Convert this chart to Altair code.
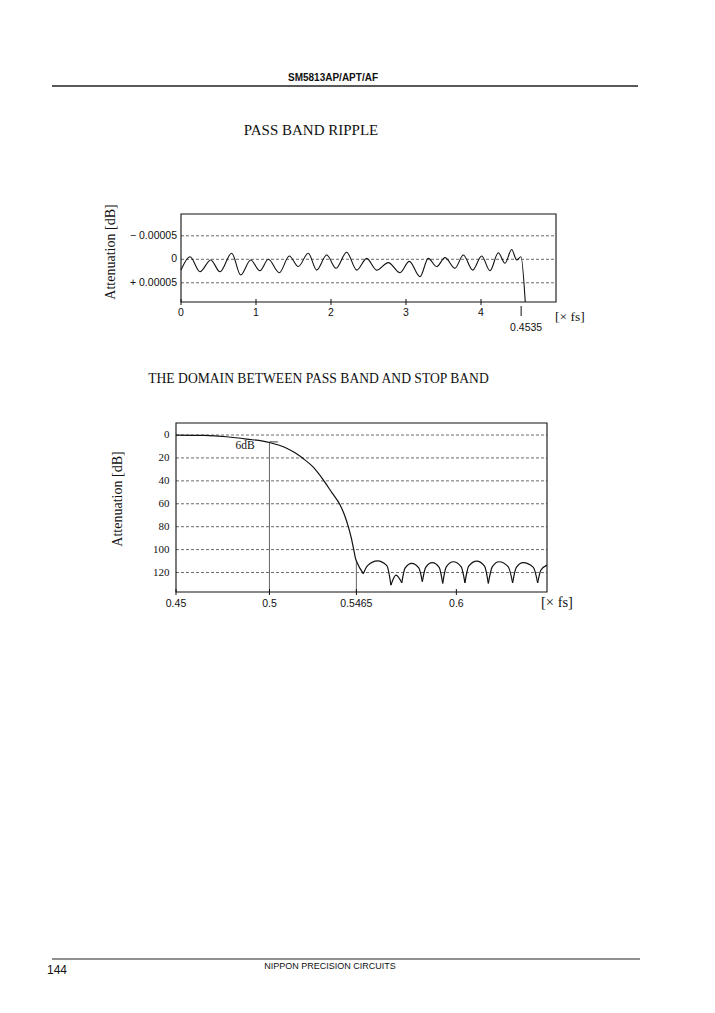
import altair as alt
import pandas as pd

SANS = "Liberation Sans"
SERIF = "Liberation Serif"
INK = "#111111"

# ---------------- data: pass band ripple ----------------
# x in units of 0.1 x fs (axis shows 0..4), attenuation in micro-dB
ripple_x = [0, 0.12, 0.253, 0.396, 0.52, 0.676, 0.796, 0.929, 1.053, 1.164,
            1.311, 1.444, 1.564, 1.697, 1.809, 1.943, 2.067, 2.209, 2.343, 2.476,
            2.609, 2.764, 2.92, 3.044, 3.187, 3.297, 3.409, 3.52, 3.653, 3.764,
            3.889, 4.009, 4.12, 4.231, 4.32, 4.409, 4.476, 4.533, 4.59]
ripple_udb = [23, -5.5, 26.5, 1.5, 26.5, -13, 33.5, 1.5, 24.5, 0,
              28.5, -7, 15.5, -13, 23, -9, 19, -15, 23, -2,
              23, 7, 28.5, 4.5, 37, -2, 15.5, -3.5, 19, -9,
              23, -7, 24.5, -14, 8.5, -21, 1.5, -5.5, 90.9]
ripple_xticks = [0, 1, 2, 3, 4]
ripple_xlabels = ["0", "1", "2", "3", "4"]
ripple_yticks = [-50, 0, 50]
ripple_ylabels = ["\u2212 0.00005", "0", "+ 0.00005"]
ripple_edge = [4.535]
ripple_edge_label = "0.4535"
ripple_xdom = [0, 5]
ripple_ydom = [-96.4, 90.9]

# ---------------- data: transition band ----------------
trans_x = [0.45, 0.465, 0.4771, 0.4878, 0.5, 0.5092, 0.5137, 0.518, 0.5237, 0.5285,
           0.5333, 0.5378, 0.5402, 0.5422, 0.5438, 0.5451, 0.5461, 0.5468, 0.5502]
trans_db = [0, 0.3, 1.5, 3.5, 6.5, 11.5, 15.5, 20.5, 28.5, 38.5,
            50, 61, 70, 80, 90, 100, 108, 111, 121]
stop_x = [0.5502, 0.5525, 0.5578, 0.5628, 0.565,
          0.565, 0.5677, 0.5708,
          0.5708, 0.5726, 0.5761, 0.5799, 0.5818,
          0.5818, 0.5836, 0.5871, 0.5908, 0.5927,
          0.5927, 0.5946, 0.5984, 0.6026, 0.6046,
          0.6046, 0.6066, 0.6109, 0.6151, 0.6171,
          0.6171, 0.6192, 0.6228, 0.6278, 0.6301,
          0.6301, 0.6321, 0.6358, 0.6412, 0.6435,
          0.6435, 0.6452, 0.6485]
stop_db = [121, 114, 109.8, 114, 131,
           131, 122.3, 129,
           129, 116, 112, 116, 128,
           128, 115.5, 111.4, 115.5, 129.5,
           129.5, 115, 110.6, 115, 129,
           129, 114.5, 110, 114.5, 129.5,
           129.5, 115, 110.6, 115, 129,
           129, 115.5, 111.4, 115.5, 129,
           129, 118, 113.5]
stop_seg = [1] * 5 + [2] * 3 + [3] * 5 + [4] * 5 + [5] * 5 + [6] * 5 + [7] * 5 + [8] * 5 + [9] * 3
trans_xticks = [0.45, 0.5, 0.5465, 0.6]
trans_xlabels = ["0.45", "0.5", "0.5465", "0.6"]
trans_yticks = [0, 20, 40, 60, 80, 100, 120]
trans_ylabels = ["0", "20", "40", "60", "80", "100", "120"]
trans_marks_x = [0.5, 0.5465]
trans_marks_db = [6, 110]
trans_xdom = [0.45, 0.6485]
trans_ydom = [-10.5, 137]

W, H = 699, 997

# ---------------- panel 1 ----------------
X1 = alt.Scale(domain=ripple_xdom, range=[173, 548], nice=False, zero=False)
Y1 = alt.Scale(domain=ripple_ydom, range=[206, 294], nice=False, zero=False)


def x1(f):
    return alt.X(f, type="quantitative", scale=X1, axis=None)


def y1(f):
    return alt.Y(f, type="quantitative", scale=Y1, axis=None)


r_df = pd.DataFrame({"x": ripple_x, "y": ripple_udb})
r_grid = pd.DataFrame({"v": ripple_yticks, "lbl": ripple_ylabels,
                       "x0": ripple_xdom[0], "x1": ripple_xdom[1]})
r_xt = pd.DataFrame({"v": ripple_xticks, "lbl": ripple_xlabels})
r_frame = pd.DataFrame({"x0": [ripple_xdom[0]], "x1": [ripple_xdom[1]],
                        "y0": [ripple_ydom[0]], "y1": [ripple_ydom[1]]})
r_edge = pd.DataFrame({"x": ripple_edge, "lbl": [ripple_edge_label]})

p1 = [
    alt.Chart(r_grid).mark_rule(strokeDash=[3, 2], color="#444", strokeWidth=0.8).encode(
        x=x1("x0"), x2="x1", y=y1("v")),
    alt.Chart(r_frame).mark_rect(fillOpacity=0, stroke=INK, strokeWidth=1.1).encode(
        x=x1("x0"), x2="x1", y=y1("y0"), y2="y1"),
    alt.Chart(r_df).mark_line(interpolate="monotone", color=INK, strokeWidth=1.1).encode(
        x=x1("x"), y=y1("y")),
    alt.Chart(r_grid).mark_text(align="right", baseline="middle", dx=-4, font=SANS,
                                fontSize=10.5, color=INK).encode(
        x=x1("x0"), y=y1("v"), text="lbl"),
    alt.Chart(r_xt).mark_rule(color=INK, strokeWidth=1).encode(
        x=x1("v"), y=alt.value(291), y2=alt.value(297)),
    alt.Chart(r_xt).mark_text(baseline="middle", font=SANS, fontSize=10.5, color=INK).encode(
        x=x1("v"), y=alt.value(305), text="lbl"),
    alt.Chart(r_edge).mark_rule(color=INK, strokeWidth=1).encode(
        x=x1("x"), y=alt.value(298), y2=alt.value(308)),
    alt.Chart(r_edge).mark_text(dx=5, font=SANS, fontSize=10.5, color=INK,
                                baseline="middle").encode(
        x=x1("x"), y=alt.value(320), text="lbl"),
]
panel1 = alt.layer(*p1)

# ---------------- panel 2 ----------------
X2 = alt.Scale(domain=trans_xdom, range=[168, 539], nice=False, zero=False)
Y2 = alt.Scale(domain=trans_ydom, range=[415, 584], nice=False, zero=False)


def x2(f):
    return alt.X(f, type="quantitative", scale=X2, axis=None)


def y2(f):
    return alt.Y(f, type="quantitative", scale=Y2, axis=None)


t_df = pd.DataFrame({"x": trans_x + stop_x,
                     "y": trans_db + stop_db,
                     "seg": [0] * len(trans_x) + stop_seg})
t_grid = pd.DataFrame({"v": trans_yticks, "lbl": trans_ylabels,
                       "x0": trans_xdom[0], "x1": trans_xdom[1]})
t_xt = pd.DataFrame({"v": trans_xticks, "lbl": trans_xlabels})
t_frame = pd.DataFrame({"x0": [trans_xdom[0]], "x1": [trans_xdom[1]],
                        "y0": [trans_ydom[0]], "y1": [trans_ydom[1]]})
t_marks = pd.DataFrame({"x": trans_marks_x, "y0": trans_marks_db, "y1": trans_ydom[1]})
t_6db = pd.DataFrame({"x0": [0.5], "x1": [0.5045], "y": [6]})

p2 = [
    alt.Chart(t_grid).mark_rule(strokeDash=[3, 2], color="#444", strokeWidth=0.8).encode(
        x=x2("x0"), x2="x1", y=y2("v")),
    alt.Chart(t_marks).mark_rule(color="#666", strokeWidth=1).encode(
        x=x2("x"), y=y2("y0"), y2="y1"),
    alt.Chart(t_6db).mark_rule(color="#444", strokeWidth=1).encode(
        x=x2("x0"), x2="x1", y=y2("y")),
    alt.Chart(t_frame).mark_rect(fillOpacity=0, stroke=INK, strokeWidth=1.1).encode(
        x=x2("x0"), x2="x1", y=y2("y0"), y2="y1"),
    alt.Chart(t_df).mark_line(interpolate="monotone", color=INK, strokeWidth=1.2).encode(
        x=x2("x"), y=y2("y"), detail="seg:N", order="x:Q"),
    alt.Chart(t_grid).mark_text(align="right", baseline="middle", dx=-6.5, font=SERIF,
                                fontSize=11, color=INK).encode(
        x=x2("x0"), y=y2("v"), text="lbl"),
    alt.Chart(t_xt).mark_rule(color=INK, strokeWidth=1).encode(
        x=x2("v"), y=alt.value(581), y2=alt.value(587)),
    alt.Chart(t_xt).mark_text(baseline="middle", font=SANS, fontSize=10.5, color=INK).encode(
        x=x2("v"), y=alt.value(596), text="lbl"),
]
panel2 = alt.layer(*p2)

# ---------------- page text / rules ----------------
one = pd.DataFrame({"a": [0]})


def label(txt, x, y, font=SERIF, size=14, weight="normal", align="center", angle=0):
    return alt.Chart(one).mark_text(text=txt, font=font, fontSize=size, fontWeight=weight,
                                    align=align, baseline="middle", color=INK,
                                    angle=angle).encode(
        x=alt.value(x), y=alt.value(y))


def hline(x0, x1, y, w):
    return alt.Chart(one).mark_rule(color="#222", strokeWidth=w).encode(
        x=alt.value(x0), x2=alt.value(x1), y=alt.value(y))


texts = [
    label("SM5813AP/APT/AF", 325, 70, font=SANS, size=10, weight="bold"),
    hline(44, 630, 78, 1.5),
    label("PASS BAND RIPPLE", 303, 122, size=15),
    label("Attenuation [dB]", 103, 244, angle=270),
    label("[\u00d7 fs]", 547, 309, size=13.5, align="left"),
    label("THE DOMAIN BETWEEN PASS BAND AND STOP BAND", 310.5, 371, size=13.6),
    label("Attenuation [dB]", 110, 491, angle=270),
    label("[\u00d7 fs]", 533, 595, size=14.5, align="left"),
    label("6dB", 237, 438, size=11.5),
    hline(44, 632, 951, 1.2),
    label("144", 39, 961.5, font=SANS, size=12, align="left"),
    label("NIPPON PRECISION CIRCUITS", 322, 958, font=SANS, size=9),
]

chart = alt.layer(panel1, panel2, *texts).resolve_scale(
    x="independent", y="independent"
).properties(
    width=W, height=H, padding=0,
    autosize=alt.AutoSizeParams(type="none"),
    background="white",
).configure_view(strokeWidth=0)

chart.save("out.html", embed_options={"renderer": "svg", "actions": False})
